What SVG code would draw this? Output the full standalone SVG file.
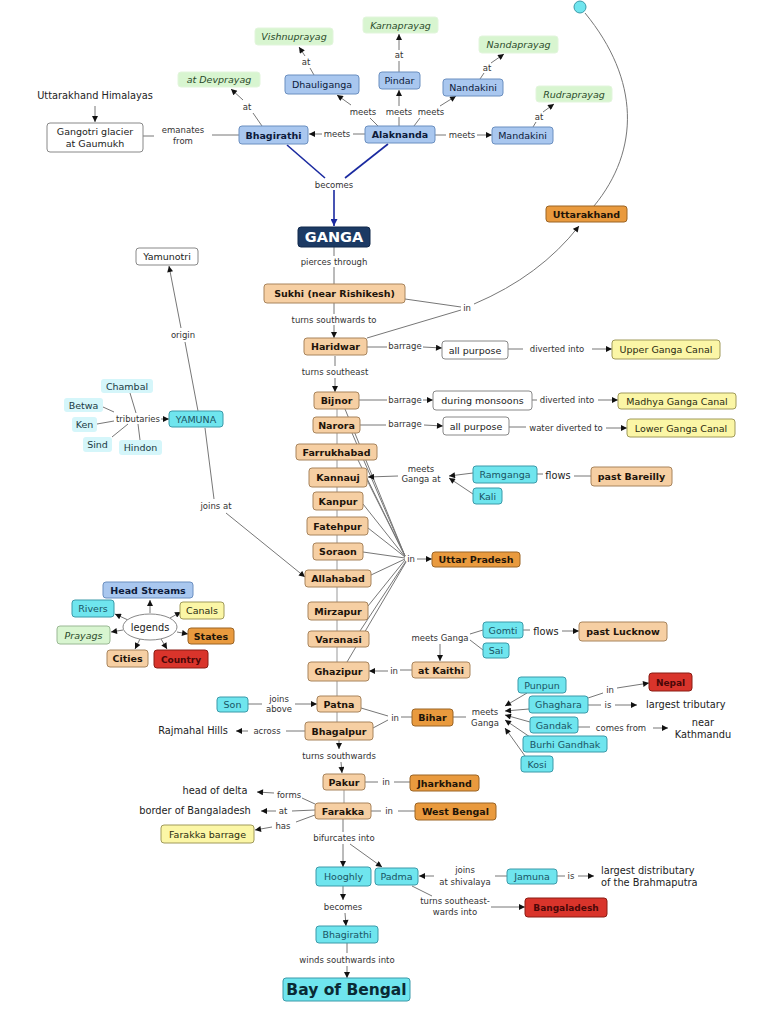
<svg xmlns="http://www.w3.org/2000/svg" width="768" height="1024" viewBox="0 0 768 1024">
<defs>
<marker id="ah" viewBox="0 0 10 10" refX="10" refY="5" markerWidth="7" markerHeight="6" markerUnits="userSpaceOnUse" orient="auto"><path d="M0,0 L10,5 L0,10 z" fill="#111"/></marker>
<marker id="bh" viewBox="0 0 10 10" refX="10" refY="5" markerWidth="8" markerHeight="7" markerUnits="userSpaceOnUse" orient="auto"><path d="M0,0 L10,5 L0,10 z" fill="#1a2aa0"/></marker>
</defs>
<style>
text{font-family:"DejaVu Sans",Verdana,sans-serif;text-anchor:middle}
.c line,.c path{stroke:#777;stroke-width:1;fill:none}
.c .s{stroke:#bbb;stroke-width:1.5}
.c .bl{stroke:#1a2aa0;stroke-width:1.6}
.a{marker-end:url(#ah)}
.l{font-size:8.5px;fill:#333}
.t{font-size:9.8px;fill:#222}
.b{font-weight:bold}
rect{rx:3;ry:3}
.hs rect{fill:#a9c7ef;stroke:#6b8fc0}
.hs text{font-size:9.5px;fill:#0c1a3a}
.pr rect{fill:#d8f5d0;stroke:#e2f5dc}
.pr text{font-size:9.5px;fill:#2a4a2a;font-style:italic}
.wh rect{fill:#fff;stroke:#888}
.wh text{font-size:9.5px;fill:#222}
.ci rect{fill:#f6cfa3;stroke:#a8845c}
.ci text{font-size:9.5px;fill:#1e140a;font-weight:bold}
.st rect{fill:#e99a3e;stroke:#9b6424}
.st text{font-size:9.5px;fill:#1e1408;font-weight:bold}
.ca rect{fill:#fbf6a6;stroke:#a09a5a}
.ca text{font-size:9.5px;fill:#2a2a10}
.rv rect{fill:#6fe5ee;stroke:#3b9aa9}
.rv text{font-size:9.5px;fill:#1a5464}
.pc rect{fill:#d5f6fa;stroke:none}
.pc text{font-size:9.5px;fill:#1a3a44}
.co rect{fill:#d9342b;stroke:#8a1c14}
.co text{font-size:9px;fill:#4a0808;font-weight:bold}
</style>
<rect width="768" height="1024" fill="#fff" rx="0" ry="0"/>

<g id="connectors" class="c">
<line class="s" x1="337" y1="409" x2="337" y2="722"/>
<line class="s" x1="344" y1="790" x2="344" y2="803"/>
<line class="a" x1="95" y1="106" x2="95" y2="122"/>
<line x1="143" y1="136" x2="154" y2="136"/>
<line x1="212" y1="135" x2="239" y2="135"/>
<line x1="365" y1="134" x2="353" y2="134"/>
<line class="a" x1="322" y1="134" x2="309" y2="134"/>
<line x1="262" y1="126" x2="253" y2="113"/>
<line class="a" x1="243" y1="100" x2="231" y2="89"/>
<line x1="378" y1="126" x2="370" y2="118"/>
<line class="a" x1="351" y1="105" x2="337" y2="95"/>
<line x1="314" y1="75" x2="310" y2="68"/>
<line class="a" x1="305" y1="56" x2="299" y2="47"/>
<line x1="399" y1="126" x2="399" y2="117"/>
<line class="a" x1="399" y1="106" x2="399" y2="90"/>
<line x1="399" y1="72" x2="399" y2="61"/>
<line class="a" x1="399" y1="50" x2="399" y2="34"/>
<line x1="414" y1="126" x2="420" y2="118"/>
<line class="a" x1="440" y1="106" x2="456" y2="96"/>
<line x1="480" y1="79" x2="484" y2="73"/>
<line class="a" x1="491" y1="63" x2="504" y2="54"/>
<line x1="435" y1="135" x2="446" y2="135"/>
<line class="a" x1="477" y1="135" x2="492" y2="135"/>
<line x1="533" y1="127" x2="536" y2="122"/>
<line class="a" x1="543" y1="112" x2="554" y2="104"/>
<line class="bl" x1="287" y1="145" x2="325" y2="178"/>
<line class="bl" x1="388" y1="144" x2="345" y2="178"/>
<line class="bl" x1="334" y1="190" x2="334" y2="226" marker-end="url(#bh)"/>
<line x1="334" y1="247" x2="334" y2="256"/>
<line x1="334" y1="267" x2="334" y2="284"/>
<line x1="334" y1="303" x2="334" y2="314"/>
<line class="a" x1="334" y1="325" x2="334" y2="338"/>
<line x1="405" y1="299" x2="461" y2="307"/>
<line x1="367" y1="338" x2="461" y2="310"/>
<path class="a" d="M474,304 Q540,276 579,226"/>
<path d="M585,13 C640,80 640,150 594,206"/>
<line x1="367" y1="347" x2="387" y2="347"/>
<line class="a" x1="423" y1="347" x2="442" y2="348"/>
<line x1="508" y1="349" x2="523" y2="349"/>
<line class="a" x1="592" y1="349" x2="612" y2="349"/>
<line x1="335" y1="356" x2="335" y2="366"/>
<line class="a" x1="335" y1="378" x2="335" y2="392"/>
<line x1="359" y1="400" x2="387" y2="400"/>
<line class="a" x1="423" y1="400" x2="433" y2="400"/>
<line x1="532" y1="400" x2="537" y2="400"/>
<line class="a" x1="598" y1="400" x2="618" y2="400"/>
<line x1="360" y1="425" x2="386" y2="425"/>
<line class="a" x1="424" y1="425" x2="443" y2="426"/>
<line x1="509" y1="427" x2="526" y2="427"/>
<line class="a" x1="606" y1="428" x2="627" y2="428"/>
<line x1="345" y1="409" x2="405" y2="556"/>
<line x1="352" y1="433" x2="405" y2="556"/>
<line x1="358" y1="460" x2="405" y2="556"/>
<line x1="367" y1="480" x2="405" y2="556"/>
<line x1="363" y1="504" x2="405" y2="557"/>
<line x1="368" y1="528" x2="405" y2="557"/>
<line x1="363" y1="552" x2="405" y2="558"/>
<line x1="371" y1="575" x2="405" y2="559"/>
<line x1="368" y1="606" x2="405" y2="560"/>
<line x1="360" y1="631" x2="406" y2="561"/>
<line x1="347" y1="662" x2="406" y2="562"/>
<line class="a" x1="417" y1="559" x2="432" y2="559"/>
<line x1="205" y1="428" x2="214" y2="499"/>
<line class="a" x1="226" y1="513" x2="305" y2="577"/>
<line x1="198" y1="411" x2="185" y2="342"/>
<line class="a" x1="181" y1="328" x2="169" y2="266"/>
<line x1="130" y1="393" x2="136" y2="413"/>
<line x1="103" y1="407" x2="114" y2="412"/>
<line x1="97" y1="424" x2="114" y2="421"/>
<line x1="112" y1="437" x2="128" y2="424"/>
<line x1="140" y1="440" x2="138" y2="424"/>
<line class="a" x1="161" y1="419" x2="169" y2="419"/>
<line class="a" x1="473" y1="473" x2="449" y2="476"/>
<line class="a" x1="473" y1="494" x2="449" y2="478"/>
<line class="a" x1="398" y1="476" x2="368" y2="477"/>
<line x1="537" y1="474" x2="543" y2="474"/>
<line x1="574" y1="476" x2="591" y2="476"/>
<line x1="483" y1="630" x2="470" y2="634"/>
<line x1="483" y1="650" x2="470" y2="640"/>
<line class="a" x1="440" y1="644" x2="440" y2="661"/>
<line x1="523" y1="630" x2="530" y2="630"/>
<line class="a" x1="562" y1="631" x2="579" y2="631"/>
<line x1="412" y1="670" x2="400" y2="670"/>
<line class="a" x1="388" y1="671" x2="369" y2="671"/>
<line x1="361" y1="708" x2="388" y2="716"/>
<line x1="373" y1="728" x2="388" y2="720"/>
<line x1="401" y1="717" x2="412" y2="717"/>
<line x1="453" y1="717" x2="466" y2="717"/>
<line class="a" x1="527" y1="693" x2="505" y2="706"/>
<line class="a" x1="529" y1="709" x2="505" y2="711"/>
<line class="a" x1="530" y1="722" x2="505" y2="715"/>
<line class="a" x1="530" y1="737" x2="505" y2="720"/>
<line class="a" x1="525" y1="756" x2="505" y2="728"/>
<line x1="588" y1="698" x2="603" y2="693"/>
<line class="a" x1="617" y1="688" x2="649" y2="683"/>
<line x1="588" y1="705" x2="601" y2="705"/>
<line class="a" x1="615" y1="705" x2="637" y2="705"/>
<line x1="578" y1="727" x2="590" y2="727"/>
<line class="a" x1="653" y1="728" x2="668" y2="728"/>
<line x1="248" y1="704" x2="262" y2="704"/>
<line class="a" x1="295" y1="704" x2="317" y2="704"/>
<line x1="305" y1="731" x2="286" y2="731"/>
<line class="a" x1="248" y1="731" x2="236" y2="731"/>
<line class="a" x1="339" y1="740" x2="339" y2="749"/>
<line class="a" x1="341" y1="762" x2="342" y2="773"/>
<line x1="365" y1="782" x2="378" y2="782"/>
<line x1="394" y1="782" x2="410" y2="782"/>
<line x1="371" y1="811" x2="381" y2="811"/>
<line x1="398" y1="811" x2="415" y2="811"/>
<line x1="315" y1="804" x2="302" y2="798"/>
<line class="a" x1="274" y1="793" x2="257" y2="792"/>
<line x1="315" y1="810" x2="292" y2="811"/>
<line class="a" x1="276" y1="811" x2="261" y2="811"/>
<line x1="315" y1="815" x2="296" y2="822"/>
<line class="a" x1="272" y1="827" x2="255" y2="830"/>
<line x1="343" y1="819" x2="343" y2="832"/>
<line class="a" x1="343" y1="844" x2="343" y2="867"/>
<line class="a" x1="350" y1="844" x2="382" y2="867"/>
<line x1="507" y1="876" x2="495" y2="876"/>
<line class="a" x1="434" y1="876" x2="419" y2="876"/>
<line x1="557" y1="876" x2="565" y2="876"/>
<line class="a" x1="578" y1="876" x2="594" y2="876"/>
<line x1="412" y1="886" x2="432" y2="896"/>
<line class="a" x1="491" y1="907" x2="525" y2="907"/>
<line class="a" x1="343" y1="886" x2="343" y2="900"/>
<line class="a" x1="345" y1="913" x2="346" y2="926"/>
<line x1="347" y1="943" x2="347" y2="953"/>
<line class="a" x1="347" y1="966" x2="347" y2="978"/>
<line class="a" x1="150" y1="613" x2="150" y2="600"/>
<line class="a" x1="128" y1="620" x2="115" y2="614"/>
<line class="a" x1="170" y1="618" x2="181" y2="612"/>
<line class="a" x1="123" y1="630" x2="111" y2="632"/>
<line class="a" x1="177" y1="632" x2="188" y2="634"/>
<line class="a" x1="140" y1="639" x2="135" y2="649"/>
<line class="a" x1="161" y1="639" x2="167" y2="649"/>
</g>

<g id="labels">
<text class="t" x="95" y="99">Uttarakhand Himalayas</text>
<text class="l" x="183" y="133">emanates</text>
<text class="l" x="183" y="144">from</text>
<text class="l" x="337" y="137">meets</text>
<text class="l" x="247" y="110">at</text>
<text class="l" x="363" y="115">meets</text>
<text class="l" x="306" y="65">at</text>
<text class="l" x="399" y="115">meets</text>
<text class="l" x="399" y="58">at</text>
<text class="l" x="431" y="115">meets</text>
<text class="l" x="487" y="71">at</text>
<text class="l" x="462" y="138">meets</text>
<text class="l" x="539" y="120">at</text>
<text class="l" x="334" y="188">becomes</text>
<text class="l" x="334" y="265">pierces through</text>
<text class="l" x="334" y="323">turns southwards to</text>
<text class="l" x="467" y="311">in</text>
<text class="l" x="405" y="349">barrage</text>
<text class="l" x="557" y="352">diverted into</text>
<text class="l" x="335" y="375">turns southeast</text>
<text class="l" x="405" y="403">barrage</text>
<text class="l" x="567" y="403">diverted into</text>
<text class="l" x="405" y="427">barrage</text>
<text class="l" x="566" y="431">water diverted to</text>
<text class="l" x="411" y="562">in</text>
<text class="l" x="183" y="338">origin</text>
<text class="l" x="216" y="509">joins at</text>
<text class="l" x="138" y="422">tributaries</text>
<text class="l" x="421" y="472">meets</text>
<text class="l" x="421" y="482">Ganga at</text>
<text class="t" x="558" y="479">flows</text>
<text class="l" x="440" y="641">meets Ganga</text>
<text class="t" x="546" y="635">flows</text>
<text class="l" x="394" y="674">in</text>
<text class="l" x="395" y="721">in</text>
<text class="l" x="485" y="715">meets</text>
<text class="l" x="485" y="726">Ganga</text>
<text class="l" x="610" y="693">in</text>
<text class="l" x="608" y="708">is</text>
<text style="text-anchor:start" class="t" x="646" y="708">largest tributary</text>
<text class="l" x="621" y="731">comes from</text>
<text class="t" x="703" y="726">near</text>
<text class="t" x="703" y="738">Kathmandu</text>
<text class="l" x="279" y="702">joins</text>
<text class="l" x="279" y="712">above</text>
<text class="t" x="193" y="734">Rajmahal Hills</text>
<text class="l" x="267" y="734">across</text>
<text class="l" x="339" y="759">turns southwards</text>
<text class="l" x="386" y="785">in</text>
<text class="l" x="389" y="814">in</text>
<text class="t" x="215" y="794">head of delta</text>
<text class="l" x="289" y="798">forms</text>
<text class="t" x="195" y="814">border of Bangaladesh</text>
<text class="l" x="283" y="814">at</text>
<text class="l" x="283" y="829">has</text>
<text class="l" x="344" y="841">bifurcates into</text>
<text class="l" x="465" y="873">joins</text>
<text class="l" x="465" y="885">at shivalaya</text>
<text class="l" x="571" y="879">is</text>
<text style="text-anchor:start" class="t" x="601" y="874">largest distributary</text>
<text style="text-anchor:start" class="t" x="601" y="886">of the Brahmaputra</text>
<text class="l" x="455" y="904">turns southeast-</text>
<text class="l" x="455" y="915">wards into</text>
<text class="l" x="343" y="910">becomes</text>
<text class="l" x="347" y="963">winds southwards into</text>
</g>

<g id="n-source"><ellipse cx="580" cy="7" rx="6" ry="6" fill="#6fe5ee" stroke="#3b9aa9"/></g>

<g id="n-bhagirathi" class="hs"><rect x="239" y="126" width="69" height="18"/><text class="b" x="273.5" y="138.5">Bhagirathi</text></g>
<g id="n-alaknanda" class="hs"><rect x="365" y="126" width="70" height="17"/><text class="b" x="400" y="138">Alaknanda</text></g>
<g id="n-dhauliganga" class="hs"><rect x="285" y="75" width="74" height="19"/><text x="322" y="88">Dhauliganga</text></g>
<g id="n-pindar" class="hs"><rect x="379" y="72" width="41" height="17"/><text x="399.5" y="84">Pindar</text></g>
<g id="n-nandakini" class="hs"><rect x="443" y="79" width="60" height="17"/><text x="473" y="91">Nandakini</text></g>
<g id="n-mandakini" class="hs"><rect x="492" y="127" width="61" height="17"/><text x="522.5" y="139">Mandakini</text></g>

<g id="n-devprayag" class="pr"><rect x="178" y="72" width="82" height="15"/><text x="219" y="83">at Devprayag</text></g>
<g id="n-vishnuprayag" class="pr"><rect x="255" y="28" width="78" height="17"/><text x="294" y="40">Vishnuprayag</text></g>
<g id="n-karnaprayag" class="pr"><rect x="363" y="17" width="75" height="16"/><text x="400.5" y="28.5">Karnaprayag</text></g>
<g id="n-nandaprayag" class="pr"><rect x="479" y="36" width="79" height="17"/><text x="518.5" y="48">Nandaprayag</text></g>
<g id="n-rudraprayag" class="pr"><rect x="536" y="86" width="76" height="16"/><text x="574" y="97.5">Rudraprayag</text></g>

<g id="n-gangotri" class="wh"><rect x="47" y="123" width="96" height="29"/><text x="95" y="135">Gangotri glacier</text><text x="95" y="147">at Gaumukh</text></g>
<g id="n-yamunotri" class="wh"><rect x="136" y="248" width="62" height="17"/><text x="167" y="260">Yamunotri</text></g>
<g id="n-allpurpose1" class="wh"><rect x="442" y="341" width="66" height="18"/><text x="475" y="353.5">all purpose</text></g>
<g id="n-monsoons" class="wh"><rect x="433" y="391" width="99" height="19"/><text x="482.5" y="404">during monsoons</text></g>
<g id="n-allpurpose2" class="wh"><rect x="443" y="417" width="66" height="18"/><text x="476" y="429.5">all purpose</text></g>

<g id="n-ganga"><rect x="298" y="227" width="72" height="20" fill="#1c3a64" stroke="#10284a"/><text x="334" y="242" font-size="14.5" font-weight="bold" fill="#fff">GANGA</text></g>

<g id="n-sukhi" class="ci"><rect x="264" y="284" width="141" height="19"/><text x="334.5" y="297">Sukhi (near Rishikesh)</text></g>
<g id="n-haridwar" class="ci"><rect x="304" y="338" width="63" height="17"/><text x="335.5" y="350">Haridwar</text></g>
<g id="n-bijnor" class="ci"><rect x="314" y="392" width="45" height="17"/><text x="336.5" y="404">Bijnor</text></g>
<g id="n-narora" class="ci"><rect x="313" y="417" width="47" height="16"/><text x="336.5" y="428.5">Narora</text></g>
<g id="n-farrukhabad" class="ci"><rect x="296" y="444" width="81" height="16"/><text x="336.5" y="455.5">Farrukhabad</text></g>
<g id="n-kannauj" class="ci"><rect x="309" y="468" width="58" height="19"/><text x="338" y="481">Kannauj</text></g>
<g id="n-kanpur" class="ci"><rect x="313" y="492" width="50" height="18"/><text x="338" y="504.5">Kanpur</text></g>
<g id="n-fatehpur" class="ci"><rect x="307" y="517" width="61" height="18"/><text x="337.5" y="529.5">Fatehpur</text></g>
<g id="n-soraon" class="ci"><rect x="313" y="543" width="50" height="17"/><text x="338" y="555">Soraon</text></g>
<g id="n-allahabad" class="ci"><rect x="305" y="570" width="66" height="17"/><text x="338" y="582">Allahabad</text></g>
<g id="n-mirzapur" class="ci"><rect x="308" y="602" width="60" height="18"/><text x="338" y="614.5">Mirzapur</text></g>
<g id="n-varanasi" class="ci"><rect x="308" y="631" width="61" height="16"/><text x="338.5" y="642.5">Varanasi</text></g>
<g id="n-ghazipur" class="ci"><rect x="308" y="662" width="61" height="19"/><text x="338.5" y="675">Ghazipur</text></g>
<g id="n-patna" class="ci"><rect x="317" y="696" width="44" height="16"/><text x="339" y="707.5">Patna</text></g>
<g id="n-bhagalpur" class="ci"><rect x="305" y="722" width="68" height="18"/><text x="339" y="734.5">Bhagalpur</text></g>
<g id="n-pakur" class="ci"><rect x="323" y="774" width="42" height="16"/><text x="344" y="785.5">Pakur</text></g>
<g id="n-farakka" class="ci"><rect x="315" y="803" width="56" height="16"/><text x="343" y="814.5">Farakka</text></g>
<g id="n-bareilly" class="ci"><rect x="591" y="467" width="81" height="19"/><text x="631.5" y="480">past Bareilly</text></g>
<g id="n-lucknow" class="ci"><rect x="579" y="622" width="88" height="19"/><text x="623" y="635">past Lucknow</text></g>
<g id="n-kaithi" class="ci"><rect x="412" y="662" width="58" height="16"/><text x="441" y="673.5">at Kaithi</text></g>

<g id="n-uttarakhand" class="st"><rect x="546" y="206" width="81" height="16"/><text x="586.5" y="217.5">Uttarakhand</text></g>
<g id="n-up" class="st"><rect x="432" y="552" width="88" height="15"/><text x="476" y="563">Uttar Pradesh</text></g>
<g id="n-bihar" class="st"><rect x="412" y="709" width="41" height="17"/><text x="432.5" y="721">Bihar</text></g>
<g id="n-jharkhand" class="st"><rect x="410" y="775" width="69" height="16"/><text x="444.5" y="786.5">Jharkhand</text></g>
<g id="n-westbengal" class="st"><rect x="415" y="803" width="81" height="17"/><text x="455.5" y="815">West Bengal</text></g>

<g id="n-upperganga" class="ca"><rect x="612" y="340" width="108" height="19"/><text x="666" y="353">Upper Ganga Canal</text></g>
<g id="n-madhya" class="ca"><rect x="618" y="393" width="118" height="16"/><text x="677" y="404.5">Madhya Ganga Canal</text></g>
<g id="n-lowerganga" class="ca"><rect x="627" y="419" width="108" height="18"/><text x="681" y="431.5">Lower Ganga Canal</text></g>
<g id="n-farakkabarrage" class="ca"><rect x="161" y="825" width="93" height="18"/><text x="207.5" y="837.5">Farakka barrage</text></g>

<g id="n-yamuna" class="rv"><rect x="169" y="411" width="54" height="16"/><text x="196" y="422.5">YAMUNA</text></g>
<g id="n-ramganga" class="rv"><rect x="473" y="466" width="64" height="17"/><text x="505" y="478">Ramganga</text></g>
<g id="n-kali" class="rv"><rect x="473" y="488" width="29" height="16"/><text x="487.5" y="499.5">Kali</text></g>
<g id="n-gomti" class="rv"><rect x="483" y="622" width="40" height="16"/><text x="503" y="633.5">Gomti</text></g>
<g id="n-sai" class="rv"><rect x="483" y="643" width="26" height="15"/><text x="496" y="654">Sai</text></g>
<g id="n-punpun" class="rv"><rect x="518" y="677" width="48" height="16"/><text x="542" y="688.5">Punpun</text></g>
<g id="n-ghaghara" class="rv"><rect x="529" y="696" width="59" height="17"/><text x="558.5" y="708">Ghaghara</text></g>
<g id="n-gandak" class="rv"><rect x="530" y="717" width="48" height="16"/><text x="554" y="728.5">Gandak</text></g>
<g id="n-burhigandhak" class="rv"><rect x="523" y="736" width="84" height="16"/><text x="565" y="747.5">Burhi Gandhak</text></g>
<g id="n-kosi" class="rv"><rect x="521" y="756" width="32" height="16"/><text x="537" y="767.5">Kosi</text></g>
<g id="n-son" class="rv"><rect x="217" y="697" width="31" height="15"/><text x="232.5" y="708">Son</text></g>
<g id="n-hooghly" class="rv"><rect x="316" y="867" width="55" height="19"/><text x="343.5" y="880">Hooghly</text></g>
<g id="n-padma" class="rv"><rect x="375" y="868" width="43" height="17"/><text x="396.5" y="880">Padma</text></g>
<g id="n-jamuna" class="rv"><rect x="507" y="869" width="50" height="15"/><text x="532" y="880">Jamuna</text></g>
<g id="n-bhagirathi2" class="rv"><rect x="316" y="926" width="62" height="17"/><text x="347" y="938">Bhagirathi</text></g>
<g id="n-bayofbengal" class="rv"><rect x="283" y="978" width="127" height="23"/><text x="346.5" y="995" style="fill:#0a2a34;font-size:15.5px;font-weight:bold">Bay of Bengal</text></g>

<g id="n-chambal" class="pc"><rect x="101" y="379" width="52" height="14"/><text x="127" y="390">Chambal</text></g>
<g id="n-betwa" class="pc"><rect x="64" y="398" width="39" height="14"/><text x="83.5" y="409">Betwa</text></g>
<g id="n-ken" class="pc"><rect x="72" y="417" width="25" height="15"/><text x="84.5" y="428">Ken</text></g>
<g id="n-sind" class="pc"><rect x="83" y="437" width="29" height="15"/><text x="97.5" y="448">Sind</text></g>
<g id="n-hindon" class="pc"><rect x="119" y="440" width="43" height="15"/><text x="140.5" y="451">Hindon</text></g>

<g id="n-nepal" class="co"><rect x="649" y="673" width="43" height="18"/><text x="670.5" y="685.5">Nepal</text></g>
<g id="n-bangaladesh" class="co"><rect x="525" y="898" width="82" height="19"/><text x="566" y="911">Bangaladesh</text></g>

<g id="legend">
<ellipse cx="150" cy="627" rx="27" ry="13" fill="#fff" stroke="#888"/>
<text class="t" x="150" y="630.5">legends</text>
<g id="lg-headstreams" class="hs"><rect x="103" y="582" width="90" height="16"/><text class="b" x="148" y="593.5">Head Streams</text></g>
<g id="lg-rivers" class="rv"><rect x="72" y="600" width="42" height="17"/><text x="93" y="612">Rivers</text></g>
<g id="lg-canals" class="ca"><rect x="180" y="602" width="44" height="17"/><text x="202" y="614">Canals</text></g>
<g id="lg-prayags" class="pr"><rect x="57" y="626" width="53" height="18" style="stroke:#9ab894"/><text x="83.5" y="638.5">Prayags</text></g>
<g id="lg-states" class="st"><rect x="188" y="628" width="46" height="16"/><text x="211" y="639.5">States</text></g>
<g id="lg-cities" class="ci"><rect x="107" y="650" width="41" height="17"/><text x="127.5" y="662">Cities</text></g>
<g id="lg-country" class="co"><rect x="154" y="650" width="54" height="18"/><text x="181" y="662.5">Country</text></g>
</g>
</svg>
